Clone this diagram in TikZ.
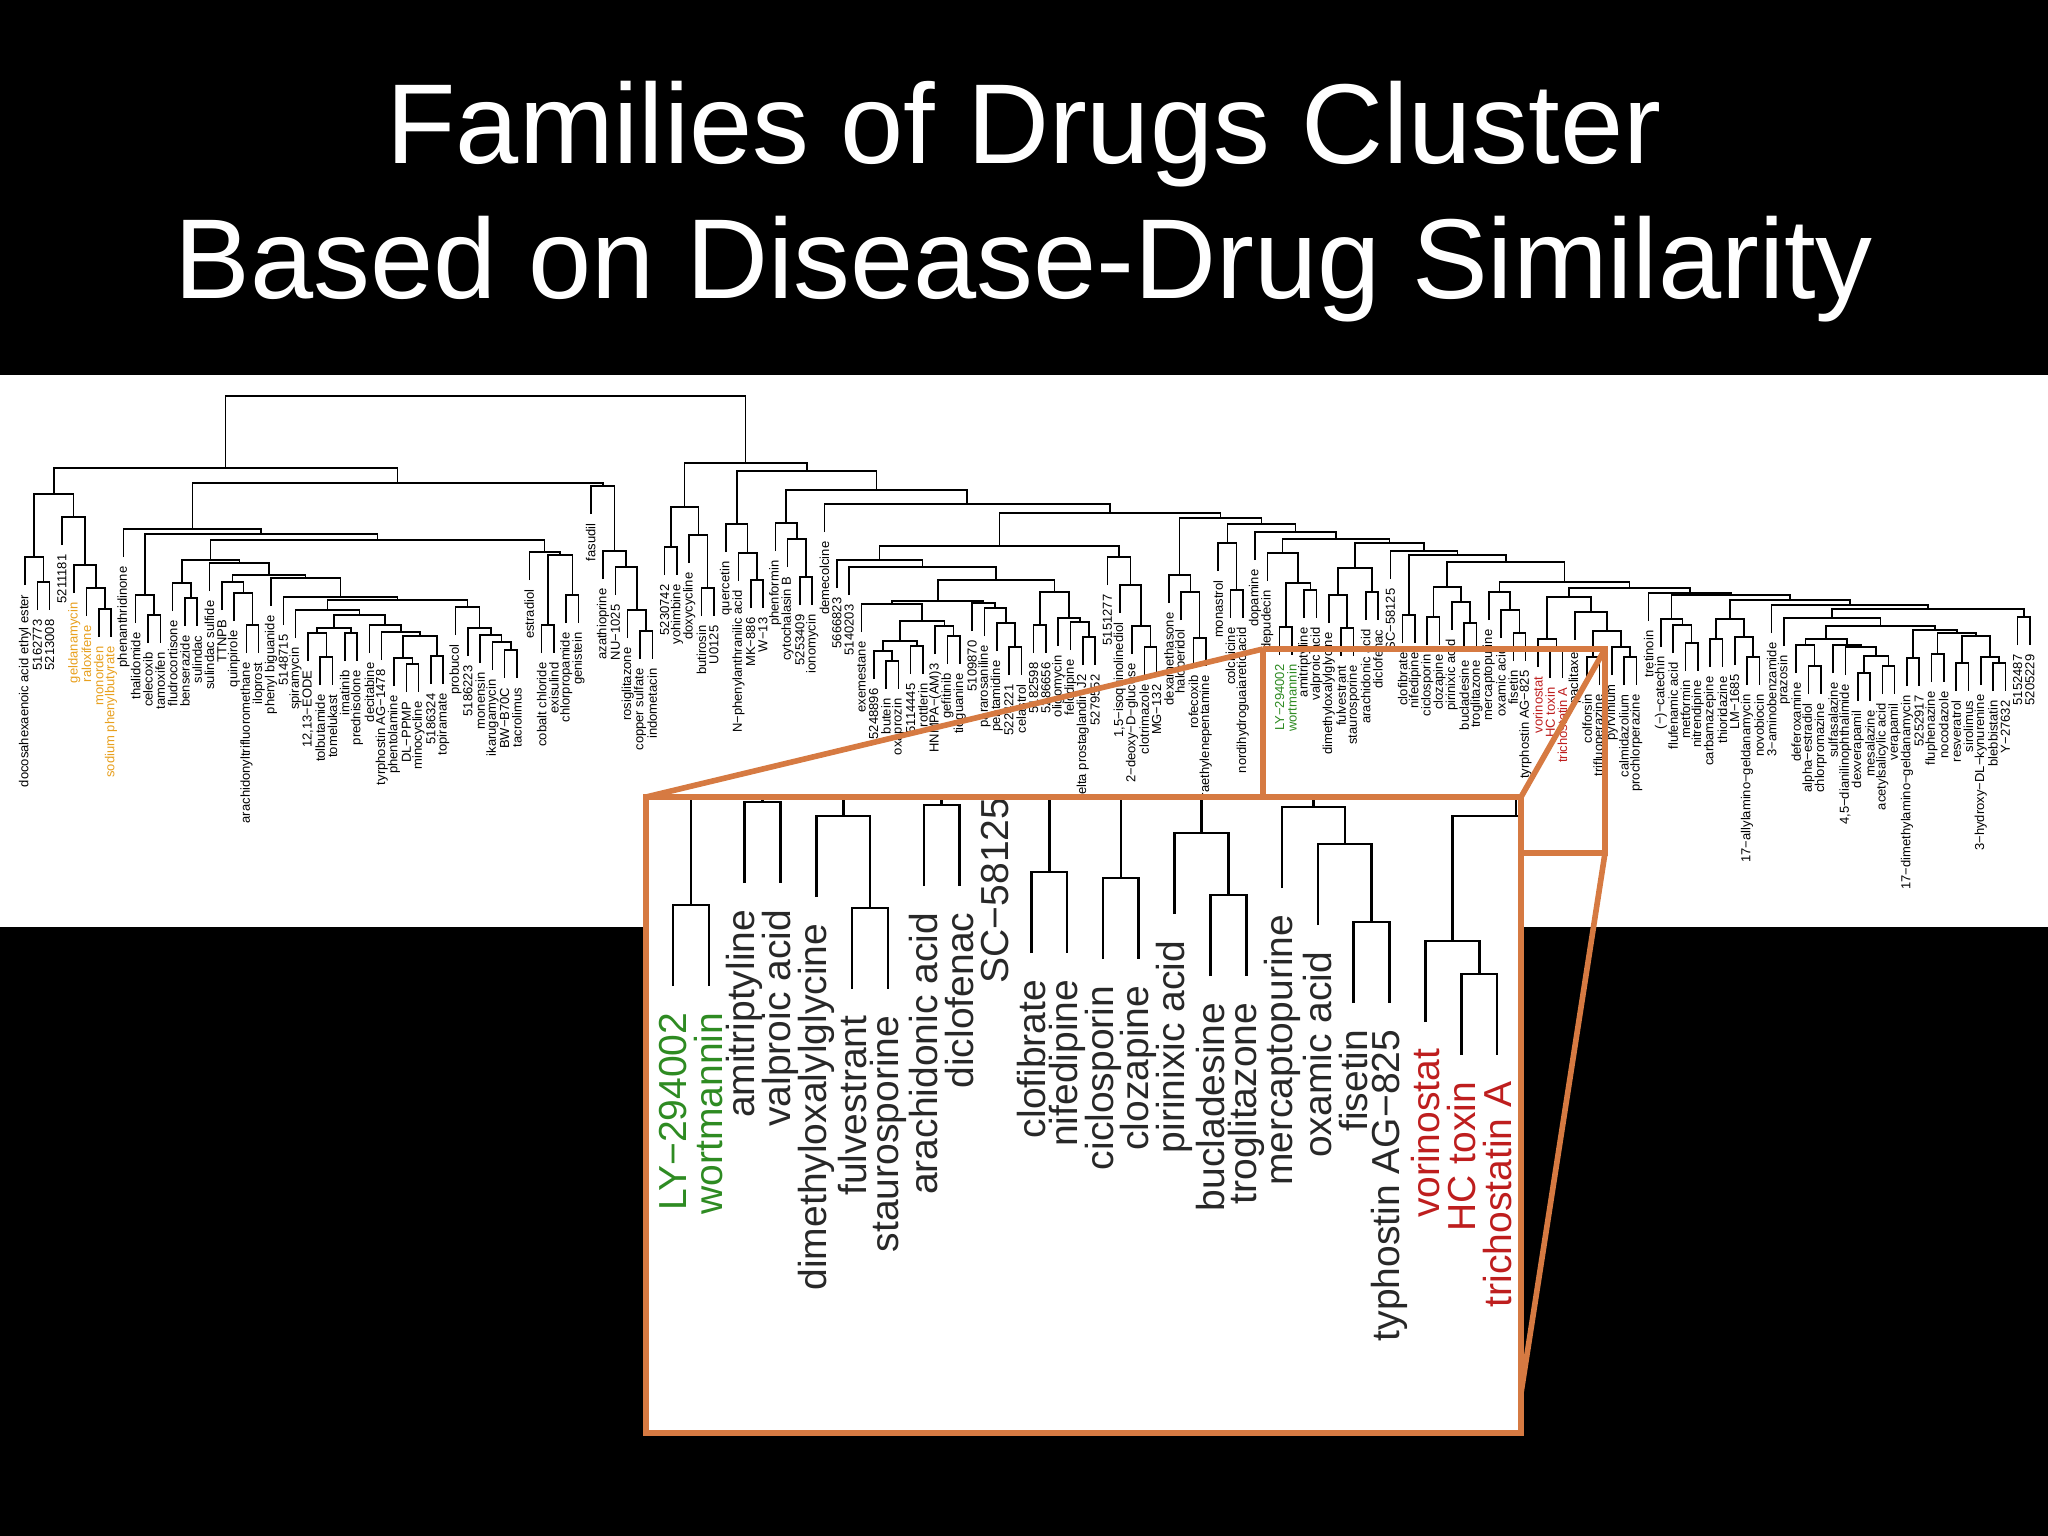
\documentclass[tikz,border=0pt]{standalone}
\usepackage{fontspec}
\setmainfont{Liberation Sans}
\definecolor{lorange}{RGB}{232,160,30}
\definecolor{lgreen}{RGB}{46,139,34}
\definecolor{lred}{RGB}{190,30,30}
\definecolor{boxorange}{RGB}{214,122,66}
\definecolor{zgray}{RGB}{40,40,40}
\tikzset{
  dtree/.style={line width=0.45pt, black},
  ztree/.style={line width=0.75pt, black},
  slab/.style={rotate=90, anchor=east, inner sep=0pt, font=\fontsize{3.7}{4}\selectfont},
  zlab/.style={rotate=90, anchor=east, inner sep=0pt, font=\fontsize{11.1}{12}\selectfont},
  curtree/.style=dtree, curlab/.style=slab,
  obox/.style={draw=boxorange, line width=1.6pt},
  titletext/.style={font=\fontsize{32.3}{38}\selectfont, text=white, anchor=base, inner sep=0pt}
}
\def\HangLen{28}\def\GapLen{9}
\newcommand\ddleaf[4]{%
  \expandafter\xdef\csname DX-#1\endcsname{#2}%
  \expandafter\xdef\csname DC-#1\endcsname{#3}%
  \expandafter\gdef\csname DT-#1\endcsname{#4}}
\newcommand\SLf[3][black]{\pgfmathsetmacro\tmpx{25+(#2-1)*12.3}\ddleaf{L#2}{\tmpx}{#1}{#3}}
\newcommand\ZLf[3][zgray]{\pgfmathsetmacro\tmpx{673+(#2-103)*35.83}\ddleaf{Z#2}{\tmpx}{#1}{#3}}
\newcommand\ddlab[2]{%
  \edef\Lcol{\csname DC-#1\endcsname}%
  \pgfmathsetmacro\Ly{#2+\GapLen}%
  \node[curlab, text=\Lcol] (n#1) at (\Cx,\Ly) {\csname DT-#1\endcsname};}
\newcommand\ddget[2]{%
  \edef\Cx{\csname DX-#1\endcsname}%
  \ifcsname DY-#1\endcsname
    \edef\Cy{\csname DY-#1\endcsname}%
  \else
    \pgfmathsetmacro\Cy{#2+\HangLen}%
    \ddlab{#1}{\Cy}%
  \fi}
\newcommand\DM[4]{%
  \ddget{#2}{#4}\let\Xa\Cx\let\Ya\Cy
  \ddget{#3}{#4}\let\Xb\Cx\let\Yb\Cy
  \draw[curtree] (\Xa,\Ya) -- (\Xa,#4) -- (\Xb,#4) -- (\Xb,\Yb);
  \pgfmathsetmacro\tmpx{(\Xa+\Xb)/2}%
  \expandafter\xdef\csname DX-#1\endcsname{\tmpx}%
  \expandafter\xdef\csname DY-#1\endcsname{#4}}
\newcommand\ddstub[1]{\edef\Sx{\csname DX-#1\endcsname}\edef\Sy{\csname DY-#1\endcsname}%
  \draw[curtree] (\Sx,\Sy) -- (\Sx,700);}
\newcommand\ddlone[2]{\edef\Cx{\csname DX-#1\endcsname}\ddlab{#1}{#2}\draw[curtree] (\Cx,#2) -- (\Cx,700);}

\begin{document}
\begin{tikzpicture}[x=0.01cm, y=-0.01cm]
\useasboundingbox (0,0) rectangle (2048,1536);
\fill[black] (0,0) rectangle (2048,1536);
\fill[white] (0,375) rectangle (2048,927);
\node[titletext] (t1) at (1024,163) {Families of Drugs Cluster};
\node[titletext] (t2) at (1024,298) {Based on Disease-Drug Similarity};

% ---------------- leaves of the full dendrogram
\SLf{1}{docosahexaenoic acid ethyl ester}
\SLf{2}{5162773}
\SLf{3}{5213008}
\SLf{4}{5211181}
\SLf[lorange]{5}{geldanamycin}
\SLf[lorange]{6}{raloxifene}
\SLf[lorange]{7}{monorden}
\SLf[lorange]{8}{sodium phenylbutyrate}
\SLf{9}{phenanthridinone}
\SLf{10}{thalidomide}
\SLf{11}{celecoxib}
\SLf{12}{tamoxifen}
\SLf{13}{fludrocortisone}
\SLf{14}{benserazide}
\SLf{15}{sulindac}
\SLf{16}{sulindac sulfide}
\SLf{17}{TTNPB}
\SLf{18}{quinpirole}
\SLf{19}{arachidonyltrifluoromethane}
\SLf{20}{iloprost}
\SLf{21}{phenyl biguanide}
\SLf{22}{5148715}
\SLf{23}{spiramycin}
\SLf{24}{12,13−EODE}
\SLf{25}{tolbutamide}
\SLf{26}{tomelukast}
\SLf{27}{imatinib}
\SLf{28}{prednisolone}
\SLf{29}{decitabine}
\SLf{30}{tyrphostin AG−1478}
\SLf{31}{phentolamine}
\SLf{32}{DL−PPMP}
\SLf{33}{minocycline}
\SLf{34}{5186324}
\SLf{35}{topiramate}
\SLf{36}{probucol}
\SLf{37}{5186223}
\SLf{38}{monensin}
\SLf{39}{ikarugamycin}
\SLf{40}{BW−B70C}
\SLf{41}{tacrolimus}
\SLf{42}{estradiol}
\SLf{43}{cobalt chloride}
\SLf{44}{exisulind}
\SLf{45}{chlorpropamide}
\SLf{46}{genistein}
\SLf{47}{fasudil}
\SLf{48}{azathioprine}
\SLf{49}{NU−1025}
\SLf{50}{rosiglitazone}
\SLf{51}{copper sulfate}
\SLf{52}{indometacin}
\SLf{53}{5230742}
\SLf{54}{yohimbine}
\SLf{55}{doxycycline}
\SLf{56}{butirosin}
\SLf{57}{U0125}
\SLf{58}{quercetin}
\SLf{59}{N−phenylanthranilic acid}
\SLf{60}{MK−886}
\SLf{61}{W−13}
\SLf{62}{phenformin}
\SLf{63}{cytochalasin B}
\SLf{64}{5253409}
\SLf{65}{ionomycin}
\SLf{66}{demecolcine}
\SLf{67}{5666823}
\SLf{68}{5140203}
\SLf{69}{exemestane}
\SLf{70}{5248896}
\SLf{71}{butein}
\SLf{72}{oxaprozin}
\SLf{73}{5114445}
\SLf{74}{rottlerin}
\SLf{75}{HNMPA−(AM)3}
\SLf{76}{gefitinib}
\SLf{77}{tioguanine}
\SLf{78}{5109870}
\SLf{79}{pararosaniline}
\SLf{80}{pentamidine}
\SLf{81}{5224221}
\SLf{82}{celastrol}
\SLf{83}{5182598}
\SLf{84}{5286656}
\SLf{85}{oligomycin}
\SLf{86}{felodipine}
\SLf{87}{15−delta prostaglandin J2}
\SLf{88}{5279552}
\SLf{89}{5151277}
\SLf{90}{1,5−isoquinolinediol}
\SLf{91}{2−deoxy−D−glucose}
\SLf{92}{clotrimazole}
\SLf{93}{MG−132}
\SLf{94}{dexamethasone}
\SLf{95}{haloperidol}
\SLf{96}{rofecoxib}
\SLf{97}{tetraethylenepentamine}
\SLf{98}{monastrol}
\SLf{99}{colchicine}
\SLf{100}{nordihydroguaiaretic acid}
\SLf{101}{dopamine}
\SLf{102}{depudecin}
\SLf[lgreen]{103}{LY−294002}
\SLf[lgreen]{104}{wortmannin}
\SLf{105}{amitriptyline}
\SLf{106}{valproic acid}
\SLf{107}{dimethyloxalylglycine}
\SLf{108}{fulvestrant}
\SLf{109}{staurosporine}
\SLf{110}{arachidonic acid}
\SLf{111}{diclofenac}
\SLf{112}{SC−58125}
\SLf{113}{clofibrate}
\SLf{114}{nifedipine}
\SLf{115}{ciclosporin}
\SLf{116}{clozapine}
\SLf{117}{pirinixic acid}
\SLf{118}{bucladesine}
\SLf{119}{troglitazone}
\SLf{120}{mercaptopurine}
\SLf{121}{oxamic acid}
\SLf{122}{fisetin}
\SLf{123}{tyrphostin AG−825}
\SLf[lred]{124}{vorinostat}
\SLf[lred]{125}{HC toxin}
\SLf[lred]{126}{trichostatin A}
\SLf{127}{paclitaxel}
\SLf{128}{colforsin}
\SLf{129}{trifluoperazine}
\SLf{130}{pyrvinium}
\SLf{131}{calmidazolium}
\SLf{132}{prochlorperazine}
\SLf{133}{tretinoin}
\SLf{134}{(−)−catechin}
\SLf{135}{flufenamic acid}
\SLf{136}{metformin}
\SLf{137}{nitrendipine}
\SLf{138}{carbamazepine}
\SLf{139}{thioridazine}
\SLf{140}{LM−1685}
\SLf{141}{17−allylamino−geldanamycin}
\SLf{142}{novobiocin}
\SLf{143}{3−aminobenzamide}
\SLf{144}{prazosin}
\SLf{145}{deferoxamine}
\SLf{146}{alpha−estradiol}
\SLf{147}{chlorpromazine}
\SLf{148}{sulfasalazine}
\SLf{149}{4,5−dianilinophthalimide}
\SLf{150}{dexverapamil}
\SLf{151}{mesalazine}
\SLf{152}{acetylsalicylic acid}
\SLf{153}{verapamil}
\SLf{154}{17−dimethylamino−geldanamycin}
\SLf{155}{5252917}
\SLf{156}{fluphenazine}
\SLf{157}{nocodazole}
\SLf{158}{resveratrol}
\SLf{159}{sirolimus}
\SLf{160}{3−hydroxy−DL−kynurenine}
\SLf{161}{blebbistatin}
\SLf{162}{Y−27632}
\SLf{163}{5152487}
\SLf{164}{5205229}

% ---------------- merges, left cluster
\DM{a1}{L2}{L3}{582}
\DM{a2}{L1}{a1}{557}
\DM{a3}{L7}{L8}{609}
\DM{a4}{L6}{a3}{588}
\DM{a5}{L5}{a4}{565}
\DM{a6}{L4}{a5}{517}
\DM{A1}{a2}{a6}{494}
\DM{b1}{L11}{L12}{615}
\DM{b2}{L10}{b1}{595}
\DM{b3}{L14}{L15}{598}
\DM{b4}{L13}{b3}{583}
\DM{c1}{L19}{L20}{625}
\DM{c2}{L18}{c1}{593}
\DM{c3}{L17}{c2}{582}
\DM{d1}{L25}{L26}{657}
\DM{d2}{L24}{d1}{633}
\DM{d3}{L27}{L28}{633}
\DM{d4}{d2}{d3}{628}
\DM{d5}{L32}{L33}{664}
\DM{d6}{L31}{d5}{658}
\DM{d7}{L34}{L35}{656}
\DM{d8}{d6}{d7}{636}
\DM{d9}{L30}{d8}{632}
\DM{d10}{L29}{d9}{625}
\DM{d11}{d4}{d10}{615}
\DM{d12}{L23}{d11}{610}
\DM{e1}{L40}{L41}{650}
\DM{e2}{L39}{e1}{642}
\DM{e3}{L38}{e2}{635}
\DM{e4}{L37}{e3}{628}
\DM{e5}{L36}{e4}{607}
\DM{f1}{d12}{e5}{600}
\DM{f2}{L22}{f1}{597}
\DM{f3}{L21}{f2}{578}
\DM{f4}{c3}{f3}{575}
\DM{f5}{L16}{f4}{563}
\DM{f6}{b4}{f5}{560}
\DM{g1}{L43}{L44}{625}
\DM{g2}{L45}{L46}{595}
\DM{g3}{g1}{g2}{555}
\DM{g4}{L42}{g3}{552}
\DM{h1}{f6}{g4}{540}
\DM{h2}{b2}{h1}{534}
\DM{h3}{L9}{h2}{529}
\DM{i1}{L51}{L52}{631}
\DM{i2}{L50}{i1}{610}
\DM{i3}{L49}{i2}{567}
\DM{i4}{L48}{i3}{551}
\DM{i5}{L47}{i4}{486}
\DM{A2}{h3}{i5}{483}
\DM{A}{A1}{A2}{468}
% ---------------- merges, right cluster
\DM{j1}{L53}{L54}{547}
\DM{j2}{L56}{L57}{588}
\DM{j3}{L55}{j2}{535}
\DM{B1}{j1}{j3}{507}
\DM{k1}{L60}{L61}{580}
\DM{k2}{L59}{k1}{553}
\DM{k3}{L58}{k2}{524}
\DM{k4}{L64}{L65}{577}
\DM{k5}{L63}{k4}{539}
\DM{k6}{L62}{k5}{523}
\DM{m1}{L71}{L72}{661}
\DM{m2}{L70}{m1}{651}
\DM{m3}{L73}{L74}{646}
\DM{m4}{m2}{m3}{641}
\DM{m5}{L76}{L77}{636}
\DM{m6}{L75}{m5}{626}
\DM{m7}{m4}{m6}{621}
\DM{m8}{L69}{m7}{604}
\DM{m9}{L81}{L82}{647}
\DM{m10}{L80}{m9}{623}
\DM{m11}{L79}{m10}{608}
\DM{m12}{L78}{m11}{603}
\DM{m13}{m8}{m12}{601}
\DM{n1}{L83}{L84}{625}
\DM{n2}{L87}{L88}{637}
\DM{n3}{L86}{n2}{622}
\DM{n4}{L85}{n3}{618}
\DM{n5}{n1}{n4}{592}
\DM{n6}{m13}{n5}{580}
\DM{n7}{L68}{n6}{567}
\DM{n8}{L67}{n7}{560}
\DM{o1}{L92}{L93}{647}
\DM{o2}{L91}{o1}{626}
\DM{o3}{L90}{o2}{585}
\DM{o4}{L89}{o3}{557}
\DM{o5}{n8}{o4}{546}
\DM{p1}{L96}{L97}{638}
\DM{p2}{L95}{p1}{592}
\DM{p3}{L94}{p2}{575}
\DM{p4}{L99}{L100}{590}
\DM{p5}{L98}{p4}{543}
\DM{q1}{L103}{L104}{627}
\DM{q2}{L105}{L106}{590}
\DM{q3}{q1}{q2}{583}
\DM{q4}{L102}{q3}{553}
\DM{r1}{L108}{L109}{628}
\DM{r2}{L107}{r1}{595}
\DM{r3}{L110}{L111}{592}
\DM{r4}{r2}{r3}{568}
\DM{s1}{L113}{L114}{615}
\DM{s2}{L115}{L116}{617}
\DM{s3}{L118}{L119}{623}
\DM{s4}{L117}{s3}{602}
\DM{s5}{s2}{s4}{587}
\DM{t1}{L122}{L123}{633}
\DM{t2}{L121}{t1}{610}
\DM{t3}{L120}{t2}{592}
\DM{u1}{L125}{L126}{650}
\DM{u2}{L124}{u1}{639}
\DM{u3}{L128}{L129}{657}
\DM{u4}{L131}{L132}{657}
\DM{u5}{L130}{u4}{647}
\DM{u6}{u3}{u5}{631}
\DM{u7}{L127}{u6}{612}
\DM{u8}{u2}{u7}{597}
\DM{v1}{L136}{L137}{643}
\DM{v2}{L135}{v1}{625}
\DM{v3}{L134}{v2}{619}
\DM{v4}{L138}{L139}{639}
\DM{v5}{L141}{L142}{657}
\DM{v6}{L140}{v5}{637}
\DM{v7}{v4}{v6}{619}
\DM{w1}{L146}{L147}{666}
\DM{w2}{L145}{w1}{645}
\DM{w3}{L150}{L151}{673}
\DM{w4}{L152}{L153}{666}
\DM{w5}{w3}{w4}{656}
\DM{w6}{L149}{w5}{647}
\DM{w7}{L148}{w6}{645}
\DM{w8}{w2}{w7}{639}
\DM{x1}{L154}{L155}{658}
\DM{x2}{L156}{L157}{654}
\DM{x3}{L158}{L159}{663}
\DM{x4}{L161}{L162}{663}
\DM{x5}{L160}{x4}{657}
\DM{x6}{x3}{x5}{636}
\DM{x7}{x2}{x6}{633}
\DM{x8}{x1}{x7}{630}
\DM{x9}{w8}{x8}{626}
\DM{x10}{L144}{x9}{618}
\DM{x11}{L163}{L164}{617}
\DM{x12}{x10}{x11}{609}
\DM{x13}{L143}{x12}{605}
\DM{x14}{v7}{x13}{600}
\DM{x15}{v3}{x14}{595}
\DM{x16}{L133}{x15}{593}
\DM{y1}{u8}{x16}{588}
\DM{y2}{t3}{y1}{582}
\DM{y3}{s5}{y2}{562}
\DM{y4}{s1}{y3}{555}
\DM{y5}{L112}{y4}{551}
\DM{y6}{r4}{y5}{543}
\DM{y7}{q4}{y6}{539}
\DM{y8}{L101}{y7}{532}
\DM{y9}{p5}{y8}{524}
\DM{y10}{p3}{y9}{518}
\DM{y11}{o5}{y10}{513}
\DM{y12}{L66}{y11}{504}
\DM{y13}{k6}{y12}{490}
\DM{B2}{k3}{y13}{471}
\DM{B}{B1}{B2}{463}
\DM{R}{A}{B}{396}

% ---------------- orange source rectangle and connectors
\draw[obox] (1263,649) -- (1605,649) -- (1605,853) -- (1521,853);
\draw[obox] (1263,649) -- (1263,797);
\draw[obox] (646,797) -- (1263,649);
\draw[obox] (1521,797) -- (1605,649);
\draw[obox] (1521,1393) -- (1605,853);

% ---------------- zoomed box
\fill[white] (646,797) rectangle (1521,1433);
\begin{scope}
\clip (649,800) rectangle (1518,1430);
\tikzset{curtree/.style=ztree, curlab/.style=zlab}
\def\HangLen{81}\def\GapLen{26}
\ZLf[lgreen]{103}{LY−294002}
\ZLf[lgreen]{104}{wortmannin}
\ZLf{105}{amitriptyline}
\ZLf{106}{valproic acid}
\ZLf{107}{dimethyloxalylglycine}
\ZLf{108}{fulvestrant}
\ZLf{109}{staurosporine}
\ZLf{110}{arachidonic acid}
\ZLf{111}{diclofenac}
\ZLf{112}{SC−58125}
\ZLf{113}{clofibrate}
\ZLf{114}{nifedipine}
\ZLf{115}{ciclosporin}
\ZLf{116}{clozapine}
\ZLf{117}{pirinixic acid}
\ZLf{118}{bucladesine}
\ZLf{119}{troglitazone}
\ZLf{120}{mercaptopurine}
\ZLf{121}{oxamic acid}
\ZLf{122}{fisetin}
\ZLf{123}{typhostin AG−825}
\ZLf[lred]{124}{vorinostat}
\ZLf[lred]{125}{HC toxin}
\ZLf[lred]{126}{trichostatin A}
\DM{Za}{Z103}{Z104}{905}\ddstub{Za}
\DM{Zb}{Z105}{Z106}{802}\ddstub{Zb}
\DM{Zc1}{Z108}{Z109}{908}
\DM{Zc}{Z107}{Zc1}{816}\ddstub{Zc}
\DM{Zd}{Z110}{Z111}{805}\ddstub{Zd}
\ddlone{Z112}{771}
\DM{Ze}{Z113}{Z114}{872}\ddstub{Ze}
\DM{Zf}{Z115}{Z116}{878}\ddstub{Zf}
\DM{Zg1}{Z118}{Z119}{895}
\DM{Zg}{Z117}{Zg1}{833}\ddstub{Zg}
\DM{Zh2}{Z122}{Z123}{922}
\DM{Zh1}{Z121}{Zh2}{844}
\DM{Zh}{Z120}{Zh1}{807}\ddstub{Zh}
\DM{Zi1}{Z125}{Z126}{974}
\DM{Zi}{Z124}{Zi1}{941}
\edef\Sx{\csname DX-Zi\endcsname}
\draw[ztree] (\Sx,941) -- (\Sx,816) -- (1600,816);
\draw[ztree] (1516,816) -- (1516,700);
\end{scope}
\draw[obox] (646,797) rectangle (1521,1433);
\end{tikzpicture}
\end{document}
